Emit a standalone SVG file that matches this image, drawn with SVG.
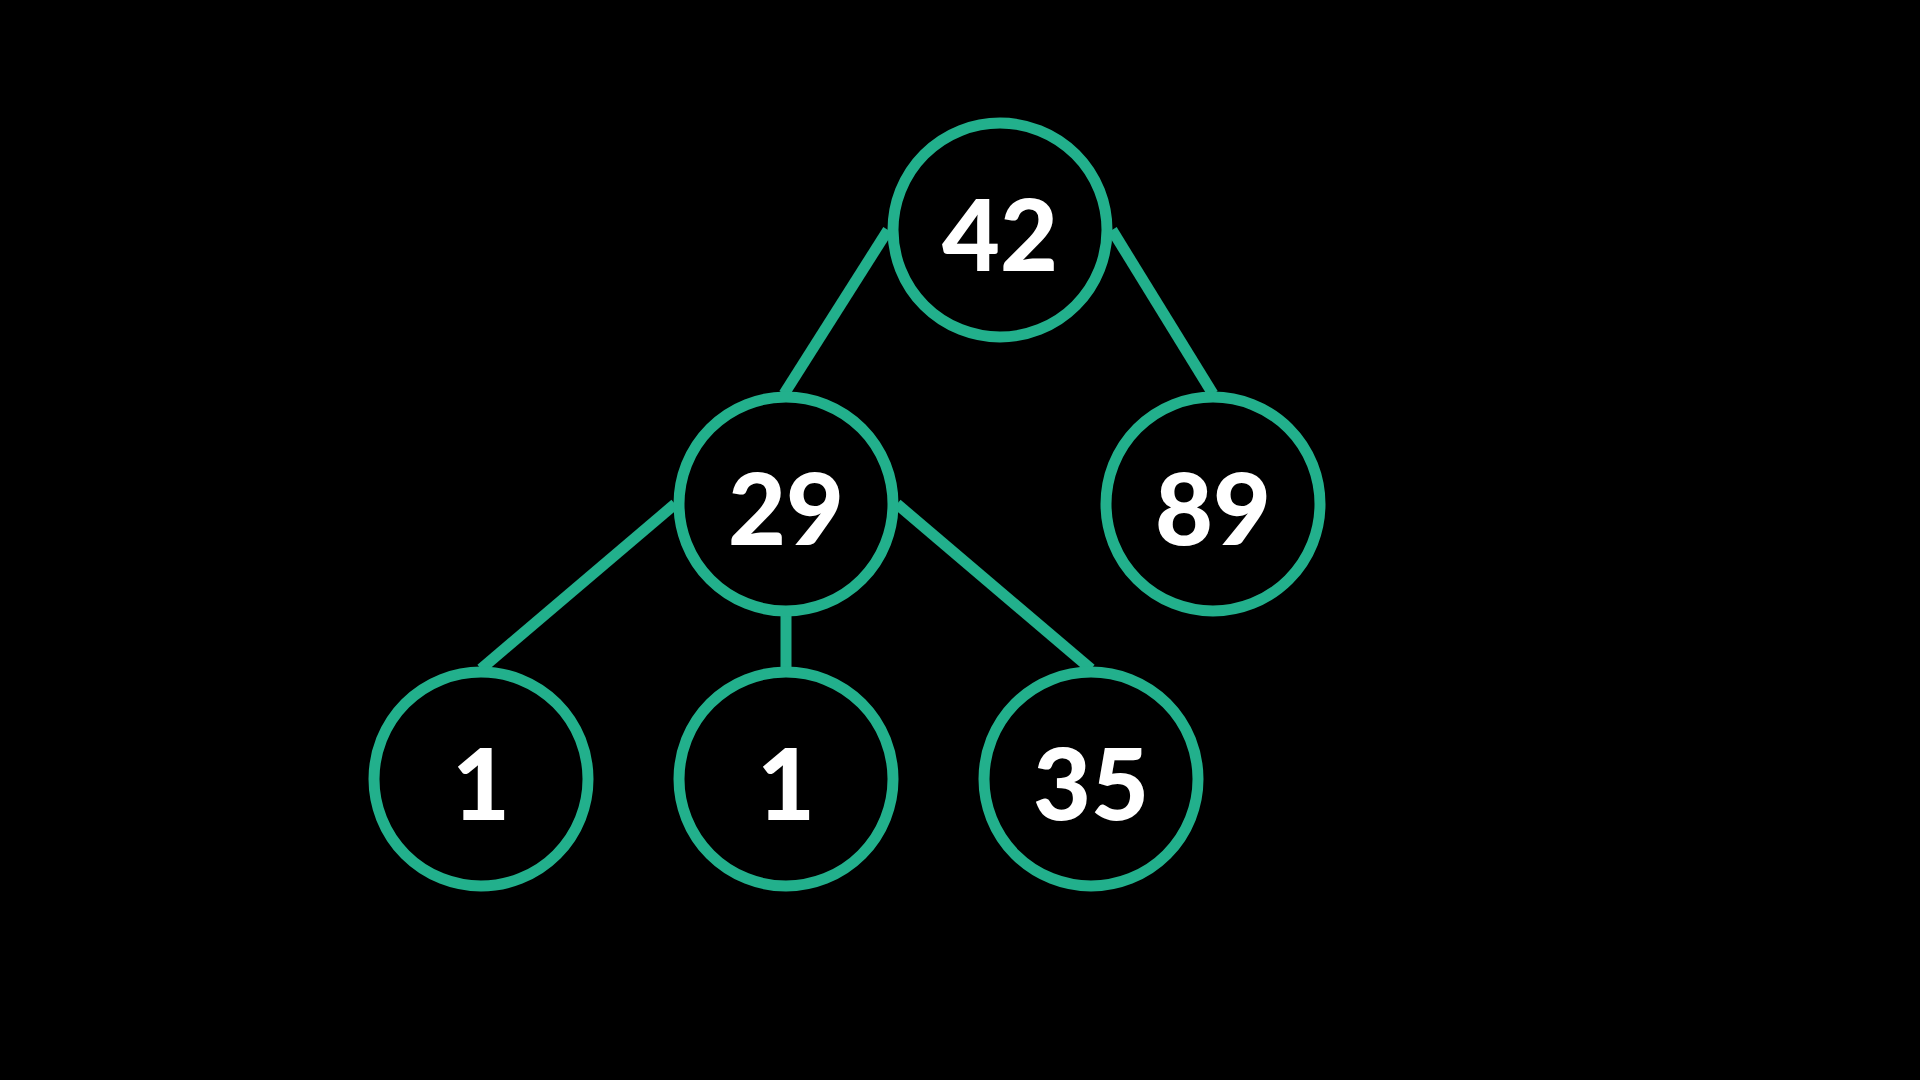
<svg xmlns="http://www.w3.org/2000/svg" width="1920" height="1080" viewBox="0 0 1920 1080">
<style>
.n{fill:#000;stroke:#22b08c;stroke-width:11}
.e{stroke:#22b08c;stroke-width:11;fill:none}
.t{fill:#fff;font-family:Lato,"Open Sans",sans-serif;font-weight:900;font-size:100px;text-anchor:middle;dominant-baseline:central}
</style>
<rect width="1920" height="1080" fill="#000"/>
<g id="connectors">
<line class="e" x1="888" y1="230" x2="784" y2="394"/>
<line class="e" x1="1112" y1="230" x2="1213" y2="394"/>
<line class="e" x1="675" y1="504" x2="481" y2="669"/>
<line class="e" x1="786" y1="611" x2="786" y2="669"/>
<line class="e" x1="897" y1="504" x2="1091" y2="669"/>
</g>
<g id="n42"><circle class="n" cx="1000" cy="230" r="107"/><text class="t" x="1000" y="232">42</text></g>
<g id="n29"><circle class="n" cx="786" cy="504" r="107"/><text class="t" x="786" y="506">29</text></g>
<g id="n89"><circle class="n" cx="1213" cy="504" r="107"/><text class="t" x="1213" y="506">89</text></g>
<g id="n1a"><circle class="n" cx="481" cy="779" r="107"/><text class="t" x="481" y="781">1</text></g>
<g id="n1b"><circle class="n" cx="786" cy="779" r="107"/><text class="t" x="786" y="781">1</text></g>
<g id="n35"><circle class="n" cx="1091" cy="779" r="107"/><text class="t" x="1091" y="781">35</text></g>
</svg>
